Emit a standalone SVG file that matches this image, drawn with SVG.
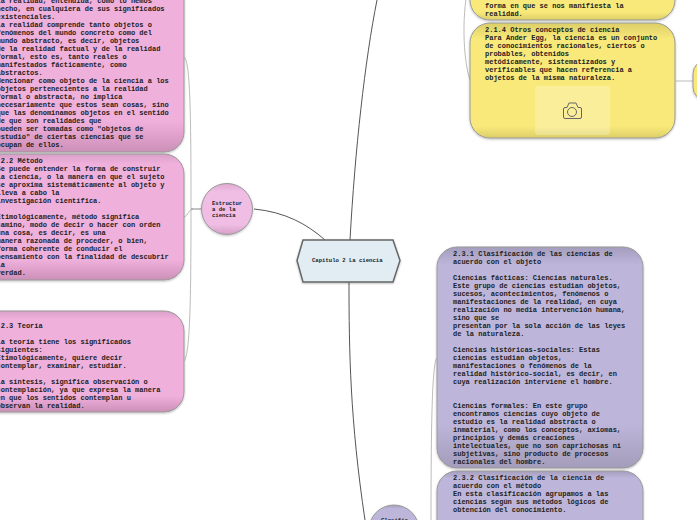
<svg xmlns="http://www.w3.org/2000/svg" width="697" height="520" viewBox="0 0 697 520">
<defs>
<linearGradient id="pink" x1="0" y1="0" x2="0" y2="1"><stop offset="0" stop-color="#d9a0c8"/><stop offset="0.08" stop-color="#f0b0dc"/><stop offset="0.84" stop-color="#f0b0dc"/><stop offset="1" stop-color="#cc90b8"/></linearGradient>
<linearGradient id="pink2" x1="0" y1="0" x2="0" y2="1"><stop offset="0" stop-color="#e0a8cf"/><stop offset="0.15" stop-color="#f0bde4"/><stop offset="0.8" stop-color="#f0bde4"/><stop offset="1" stop-color="#d5a0c8"/></linearGradient>
<linearGradient id="yel" x1="0" y1="0" x2="0" y2="1"><stop offset="0" stop-color="#dccf68"/><stop offset="0.14" stop-color="#f9e97a"/><stop offset="0.9" stop-color="#f9e97a"/><stop offset="1" stop-color="#dcce68"/></linearGradient>
<linearGradient id="pur" x1="0" y1="0" x2="0" y2="1"><stop offset="0" stop-color="#a59dbd"/><stop offset="0.08" stop-color="#bdb6da"/><stop offset="0.8" stop-color="#bdb6da"/><stop offset="1" stop-color="#a39cba"/></linearGradient>
<filter id="sh" x="-5%" y="-5%" width="110%" height="110%"><feDropShadow dx="0" dy="1" stdDeviation="1" flood-color="#000" flood-opacity="0.25"/></filter>
</defs>
<style>
text{font-family:"Liberation Mono","DejaVu Sans Mono",monospace;font-size:7px;font-weight:700;fill:#222}
.s{font-size:5.600px}
.c{fill:none;stroke:#555;stroke-width:1}
.l{fill:none;stroke:#bbb;stroke-width:1}
.n{stroke:#999;stroke-width:1;filter:url(#sh)}
</style>
<rect width="697" height="520" fill="#fff"/>
<g id="connectors">
<path class="c" d="M377 0C365 60 355 150 350 240"/>
<path class="c" d="M349 282C349 350 350 420 365 520"/>
<path class="c" d="M254 209C285 212 307 224 325 240"/>
<path class="l" d="M184 57C190 60 191 110 191 209C191 300 190 355 184 361"/>
<path class="l" d="M184 217C188 216 189 209 193 209"/>
<path class="c" d="M191 209H201" style="stroke:#888"/>
<path class="l" d="M470 -20C461 10 463 60 470 80"/>
<path class="l" d="M676 81H694"/>
<path class="l" d="M437 358C433 362 431 400 431 520"/>
</g>
<g id="n-realidad"><rect class="n" x="-40" y="-40" width="224" height="192" rx="20" fill="url(#pink)"/>
<text><tspan x="-3.500" y="3">La realidad, entendida, como lo hemos</tspan><tspan x="-3.500" y="11">hecho, en cualquiera de sus significados</tspan><tspan x="-3.500" y="19">existenciales.</tspan><tspan x="-3.500" y="27">La realidad comprende tanto objetos o</tspan><tspan x="-3.500" y="35">fenómenos del mundo concreto como del</tspan><tspan x="-3.500" y="43">mundo abstracto, es decir, objetos</tspan><tspan x="-3.500" y="51">de la realidad factual y de la realidad</tspan><tspan x="-3.500" y="59">formal, esto es, tanto reales o</tspan><tspan x="-3.500" y="67">manifestados fácticamente, como</tspan><tspan x="-3.500" y="75">abstractos.</tspan><tspan x="-3.500" y="83">Mencionar como objeto de la ciencia a los</tspan><tspan x="-3.500" y="91">objetos pertenecientes a la realidad</tspan><tspan x="-3.500" y="99">formal o abstracta, no implica</tspan><tspan x="-3.500" y="107">necesariamente que estos sean cosas, sino</tspan><tspan x="-3.500" y="115">que las denominamos objetos en el sentido</tspan><tspan x="-3.500" y="123">de que son realidades que</tspan><tspan x="-3.500" y="131">pueden ser tomadas como "objetos de</tspan><tspan x="-3.500" y="139">estudio" de ciertas ciencias que se</tspan><tspan x="-3.500" y="147">ocupan de ellos.</tspan></text></g>
<g id="n-metodo"><rect class="n" x="-40" y="154" width="224" height="126" rx="20" fill="url(#pink)"/>
<text><tspan x="0.700" y="163">2.2 Método</tspan><tspan x="-3.500" y="171">Se puede entender la forma de construir</tspan><tspan x="-3.500" y="179">la ciencia, o la manera en que el sujeto</tspan><tspan x="-3.500" y="187">se aproxima sistemáticamente al objeto y</tspan><tspan x="-3.500" y="195">lleva a cabo la</tspan><tspan x="-3.500" y="203">investigación científica.</tspan><tspan x="-3.500" y="219">Etimológicamente, método significa</tspan><tspan x="-3.500" y="227">camino, modo de decir o hacer con orden</tspan><tspan x="-3.500" y="235">una cosa, es decir, es una</tspan><tspan x="-3.500" y="243">manera razonada de proceder, o bien,</tspan><tspan x="-3.500" y="251">forma coherente de conducir el</tspan><tspan x="-3.500" y="259">pensamiento con la finalidad de descubrir</tspan><tspan x="-3.500" y="267">la</tspan><tspan x="-3.500" y="275">verdad.</tspan></text></g>
<g id="n-teoria"><rect class="n" x="-40" y="311" width="224" height="101" rx="20" fill="url(#pink)"/>
<text><tspan x="0.700" y="328">2.3 Teoría</tspan><tspan x="-3.500" y="344">La teoría tiene los significados</tspan><tspan x="-3.500" y="352">siguientes:</tspan><tspan x="-3.500" y="360">Etimológicamente, quiere decir</tspan><tspan x="-3.500" y="368">contemplar, examinar, estudiar.</tspan><tspan x="-3.500" y="384">La síntesis, significa observación o</tspan><tspan x="-3.500" y="392">contemplación, ya que expresa la manera</tspan><tspan x="-3.500" y="400">en que los sentidos contemplan u</tspan><tspan x="-3.500" y="408">observan la realidad.</tspan></text></g>
<g id="n-estructura"><circle class="n" cx="227" cy="209" r="25.500" fill="url(#pink2)"/>
<text class="s"><tspan x="212" y="205">Estructur</tspan><tspan x="212" y="211">a de la</tspan><tspan x="212" y="217">ciencia</tspan></text></g>
<g id="n-capitulo"><path d="M303 240H393L400 260.500L393 282H303L297 260.500Z" fill="#e1edf3" stroke="#666" stroke-width="1.500" filter="url(#sh)"/>
<text class="s" x="312" y="262">Capítulo 2 La ciencia</text></g>
<g id="n-213"><rect class="n" x="470" y="-60" width="205" height="80" rx="20" fill="url(#yel)"/>
<text><tspan x="485" y="8">forma en que se nos manifiesta la</tspan><tspan x="485" y="16">realidad.</tspan></text></g>
<g id="n-214"><rect class="n" x="470" y="23" width="205" height="115" rx="20" fill="url(#yel)"/>
<text><tspan x="485" y="32">2.1.4 Otros conceptos de ciencia</tspan><tspan x="485" y="40">Para Ander Egg, la ciencia es un conjunto</tspan><tspan x="485" y="48">de conocimientos racionales, ciertos o</tspan><tspan x="485" y="56">probables, obtenidos</tspan><tspan x="485" y="64">metódicamente, sistematizados y</tspan><tspan x="485" y="72">verificables que hacen referencia a</tspan><tspan x="485" y="80">objetos de la misma naturaleza.</tspan></text>
<rect x="535" y="86" width="75" height="49" rx="3" fill="#fff" fill-opacity="0.25"/>
<path d="M563.500 117V109Q563.500 107.500 565 107.500H567L569 103H576L578 107.500H580Q581.500 107.500 581.500 109V117Q581.500 118.500 580 118.500H565Q563.500 118.500 563.500 117Z" fill="none" stroke="#666"/><circle cx="572" cy="112" r="4.500" fill="none" stroke="#666"/></g>
<g id="n-yellow-right"><rect class="n" x="693" y="60" width="40" height="41" rx="14" fill="url(#yel)"/></g>
<g id="n-231"><rect class="n" x="437" y="247" width="206" height="221" rx="20" fill="url(#pur)"/>
<text><tspan x="453" y="256">2.3.1 Clasificación de las ciencias de</tspan><tspan x="453" y="264">acuerdo con el objeto</tspan><tspan x="453" y="280">Ciencias fácticas: Ciencias naturales.</tspan><tspan x="453" y="288">Este grupo de ciencias estudian objetos,</tspan><tspan x="453" y="296">sucesos, acontecimientos, fenómenos o</tspan><tspan x="453" y="304">manifestaciones de la realidad, en cuya</tspan><tspan x="453" y="312">realización no media intervención humana,</tspan><tspan x="453" y="320">sino que se</tspan><tspan x="453" y="328">presentan por la sola acción de las leyes</tspan><tspan x="453" y="336">de la naturaleza.</tspan><tspan x="453" y="352">Ciencias históricas-sociales: Estas</tspan><tspan x="453" y="360">ciencias estudian objetos,</tspan><tspan x="453" y="368">manifestaciones o fenómenos de la</tspan><tspan x="453" y="376">realidad histórico-social, es decir, en</tspan><tspan x="453" y="384">cuya realización interviene el hombre.</tspan><tspan x="453" y="408">Ciencias formales: En este grupo</tspan><tspan x="453" y="416">encontramos ciencias cuyo objeto de</tspan><tspan x="453" y="424">estudio es la realidad abstracta o</tspan><tspan x="453" y="432">inmaterial, como los conceptos, axiomas,</tspan><tspan x="453" y="440">principios y demás creaciones</tspan><tspan x="453" y="448">intelectuales, que no son caprichosas ni</tspan><tspan x="453" y="456">subjetivas, sino producto de procesos</tspan><tspan x="453" y="464">racionales del hombre.</tspan></text></g>
<g id="n-232"><rect class="n" x="437" y="471" width="206" height="90" rx="20" fill="url(#pur)"/>
<text><tspan x="453" y="480">2.3.2 Clasificación de la ciencia de</tspan><tspan x="453" y="488">acuerdo con el método</tspan><tspan x="453" y="496">En esta clasificación agrupamos a las</tspan><tspan x="453" y="504">ciencias según sus métodos lógicos de</tspan><tspan x="453" y="512">obtención del conocimiento.</tspan></text></g>
<g id="n-clasificacion"><circle class="n" cx="394" cy="530" r="25" fill="url(#pur)"/>
<text class="s"><tspan x="381" y="522">Clasific</tspan></text></g>
</svg>
